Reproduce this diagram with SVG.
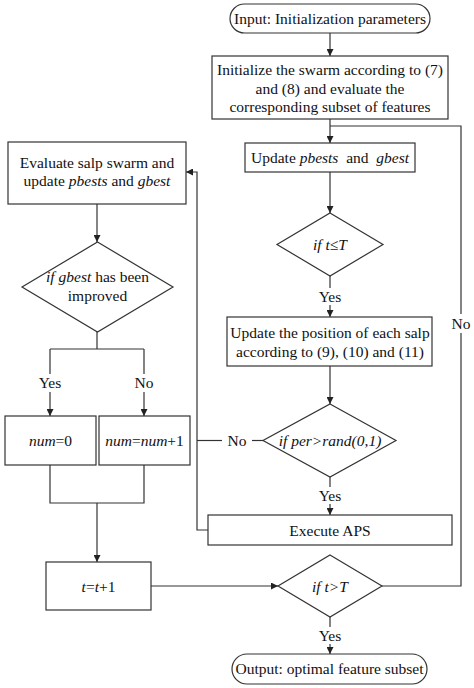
<svg xmlns="http://www.w3.org/2000/svg" width="474" height="688" viewBox="0 0 474 688" font-family="'Liberation Serif', 'Times New Roman', serif">
<defs>
<marker id="ah" viewBox="0 0 10 10" refX="10" refY="5" markerWidth="7" markerHeight="7" markerUnits="userSpaceOnUse" orient="auto">
<path d="M0,0 L10,5 L0,10 z" fill="#222"/>
</marker>
<style>
.n{fill:#fff;stroke:#333;stroke-width:1.2}
.c{fill:none;stroke:#333;stroke-width:1.2}
.a{fill:none;stroke:#333;stroke-width:1.2;marker-end:url(#ah)}
text{font-family:"Liberation Serif","Times New Roman",serif;font-size:15.5px;fill:#111;text-anchor:middle}
.i{font-style:italic}
</style>
</defs>
<rect width="474" height="688" fill="#fff"/>
<g id="connectors">
<path class="a" d="M330,33 V56"/>
<path class="a" d="M330,119 V143"/>
<path class="a" d="M330,172 V213"/>
<path class="c" d="M330,276 V288"/>
<path class="a" d="M330,305 V317"/>
<path class="a" d="M330,366 V404"/>
<path class="c" d="M330,477 V487"/>
<path class="a" d="M330,504 V515"/>
<path class="c" d="M263,440.5 H252"/>
<path class="c" d="M222,440.5 H197"/>
<path class="a" d="M208,530 H197 V172 H186"/>
<path class="c" d="M382,586 H461 V333"/>
<path class="c" d="M461,314 V126 H330"/>
<path class="c" d="M330,617 V627"/>
<path class="a" d="M330,644 V654"/>
<path class="a" d="M97,204 V242"/>
<path class="c" d="M97,332 V349 M50,349 H144 M50,349 V374 M144,349 V374"/>
<path class="a" d="M50,392 V416"/>
<path class="a" d="M144,392 V416"/>
<path class="c" d="M50,465 V503 H144 V465"/>
<path class="a" d="M97,503 V562"/>
<path class="a" d="M151,586 H278"/>
</g>
<g id="input">
<rect class="n" x="230" y="4" width="200" height="29" rx="14.5"/>
<text x="330" y="23.5">Input: Initialization parameters</text>
</g>
<g id="init">
<rect class="n" x="212" y="56" width="236" height="63"/>
<text x="330" y="75">Initialize the swarm according to (7)</text>
<text x="330" y="93.5">and (8) and evaluate the</text>
<text x="330" y="112">corresponding subset of features</text>
</g>
<g id="update-best">
<rect class="n" x="245" y="143" width="170" height="29"/>
<text x="330" y="162.5">Update <tspan class="i">pbests</tspan>&#160; and&#160; <tspan class="i">gbest</tspan></text>
</g>
<g id="cond-t-le-T">
<polygon class="n" points="330,213 383,244.5 330,276 277,244.5"/>
<text x="330" y="249.5" class="i">if t≤T</text>
<text x="330" y="301.5">Yes</text>
</g>
<g id="update-position">
<rect class="n" x="227" y="317" width="205" height="49"/>
<text x="330" y="338">Update the position of each salp</text>
<text x="330" y="357">according to (9), (10) and (11)</text>
</g>
<g id="cond-per">
<polygon class="n" points="330,404 396,440.5 330,477 263,440.5"/>
<text x="330" y="445.5" class="i">if per&gt;rand(0,1)</text>
<text x="237" y="445.5">No</text>
<text x="330" y="500.5">Yes</text>
</g>
<g id="execute-aps">
<rect class="n" x="208" y="515" width="244" height="30"/>
<text x="330" y="535.5">Execute APS</text>
</g>
<g id="cond-t-gt-T">
<polygon class="n" points="330,555 382,586 330,617 278,586"/>
<text x="330" y="591.5" class="i">if t&gt;T</text>
<text x="330" y="640.5">Yes</text>
<text x="461" y="328.5">No</text>
</g>
<g id="output">
<rect class="n" x="232" y="654" width="195" height="30" rx="15"/>
<text x="329.5" y="674">Output: optimal feature subset</text>
</g>
<g id="evaluate">
<rect class="n" x="8" y="142" width="178" height="62"/>
<text x="97" y="168">Evaluate salp swarm and</text>
<text x="97" y="186">update <tspan class="i">pbests</tspan> and <tspan class="i">gbest</tspan></text>
</g>
<g id="cond-gbest">
<polygon class="n" points="97.5,242 173,287 97.5,332 22,287"/>
<text x="97.5" y="281.5"><tspan class="i">if gbest</tspan> has been</text>
<text x="97.5" y="300.5">improved</text>
<text x="50" y="387.5">Yes</text>
<text x="144" y="387.5">No</text>
</g>
<g id="num-reset">
<rect class="n" x="5" y="416" width="91" height="49"/>
<text x="50.5" y="445.5"><tspan class="i">num</tspan>=0</text>
</g>
<g id="num-inc">
<rect class="n" x="99" y="416" width="91" height="49"/>
<text x="144.5" y="445.5"><tspan class="i">num</tspan>=<tspan class="i">num</tspan>+1</text>
</g>
<g id="t-inc">
<rect class="n" x="46" y="562" width="105" height="48"/>
<text x="98.5" y="591.5"><tspan class="i">t</tspan>=<tspan class="i">t</tspan>+1</text>
</g>
</svg>
